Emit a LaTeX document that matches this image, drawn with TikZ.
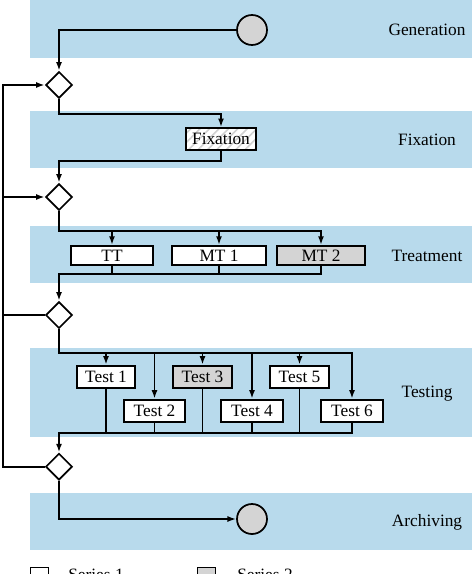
\documentclass[tikz,border=0pt]{standalone}
\usepackage{amsmath}
\usepackage{tikz}
\usepackage{color}
\usepackage{fontspec}
\setmainfont{Liberation Serif}
\usetikzlibrary{patterns}
\usetikzlibrary{patterns.meta}
\usetikzlibrary{shapes}
\usetikzlibrary{arrows.meta}

\definecolor{laneblue}{RGB}{184,218,236}
\definecolor{sergray}{RGB}{212,212,212}

\newcommand{\lanefont}{\fontsize{13}{15}\selectfont}

\begin{document}
\begin{tikzpicture}[x=0.75pt,y=0.75pt,yscale=-1,xscale=1,
    line width=1.3pt,>={Latex[length=6.5pt,width=4.5pt]},
    lane/.style={fill=laneblue,draw=none},
    lanelabel/.style={font=\lanefont,anchor=center},
    task/.style={draw,fill=white,font=\lanefont,inner sep=0pt,minimum height=14.5pt},
    fixbox/.style={draw,font=\lanefont,inner sep=0pt,minimum width=53pt,minimum height=16.5pt,preaction={fill=white},pattern={Lines[angle=45,distance=5pt,line width=1.2pt]},pattern color=black!18},
    testbox/.style={task,minimum height=17pt},
    gate/.style={draw,fill=white,diamond,aspect=1,inner sep=0pt,minimum width=20pt,minimum height=20pt},
    ends/.style={draw,fill=sergray,circle,inner sep=0pt,minimum size=22.5pt},
    key/.style={draw,inner sep=0pt,minimum size=13.5pt,anchor=north west}
]

    \useasboundingbox (0,0) rectangle (474,574);
    \clip (0,0) rectangle (474,574);

    %Shape: Rectangle [lanes]
    \fill[lane] (30,0) rectangle (472,58);
    \fill[lane] (30,111) rectangle (472,168);
    \fill[lane] (30,226) rectangle (472,283);
    \fill[lane] (30,348) rectangle (472,437);
    \fill[lane] (30,492.7) rectangle (472,550);

    %Lane labels
    \node[lanelabel] (lgen) at (427,30) {Generation};
    \node[lanelabel] (lfix) at (427,140) {Fixation};
    \node[lanelabel] (ltreat) at (427,256) {Treatment};
    \node[lanelabel] (ltest) at (427,394) {Testing};
    \node[lanelabel] (larch) at (427,522) {Archiving};

    %Shapes: start, gates and tasks
    \node[ends] (start) at (252,30) {};
    \node[gate] (d1) at (59,85) {};
    \node[fixbox] (fix) at (221,139) {Fixation};
    \node[gate] (d2) at (59,197) {};
    \node[task,minimum width=62pt] (tt) at (112,255.5) {TT};
    \node[task,minimum width=70pt] (mt1) at (219,255.5) {MT 1};
    \node[task,fill=sergray,minimum width=66pt] (mt2) at (321,255.5) {MT 2};
    \node[gate] (d3) at (59,315) {};
    \node[testbox,minimum width=44pt] (test1) at (106,377) {Test 1};
    \node[testbox,minimum width=46pt] (test2) at (154.5,411) {Test 2};
    \node[testbox,fill=sergray,minimum width=44pt] (test3) at (202.5,377) {Test 3};
    \node[testbox,minimum width=46pt] (test4) at (252,411) {Test 4};
    \node[testbox,minimum width=44pt] (test5) at (299.5,377) {Test 5};
    \node[testbox,minimum width=46pt] (test6) at (352,411) {Test 6};
    \node[gate] (d4) at (59,466.7) {};
    \node[ends] (stop) at (252,519) {};

    %Corner points
    \coordinate (fa) at (221,114);
    \coordinate (fb) at (221,161);
    \coordinate (ta) at (59,231);
    \coordinate (tb) at (59,274);
    \coordinate (sa) at (59,352.7);
    \coordinate (sb) at (59,432.7);
    \coordinate (l1) at (3,85);
    \coordinate (l2) at (3,197);
    \coordinate (l3) at (3,315);
    \coordinate (l4) at (3,466.7);

    %Straight Lines
    \draw[->] (start.west) -| (d1.north);
    \draw[->] (d1.south) |- (fa) -- (fix.north);
    \draw[->] (fix.south) -- (fb) -| (d2.north);
    \draw[->] (d2.south) -- (ta) -| (mt2.north);
    \foreach \t in {tt,mt1} \draw[->] (ta) -| (\t.north);
    \draw[->] (mt2.south) |- (tb) -- (d3.north);
    \foreach \t in {tt,mt1} \draw (\t.south) |- (tb);
    \draw[->] (d3.south) -- (sa) -| (test6.north);
    \foreach \t in {test1,test2,test3,test4,test5} \draw[->] (sa) -| (\t.north);
    \draw[->] (test6.south) |- (sb) -- (d4.north);
    \foreach \t in {test1,test2,test3,test4,test5} \draw (\t.south) |- (sb);
    \draw[->] (d4.south) |- (stop.west);

    %Loop back
    \draw[->] (d4.west) -- (l4) -- (l1) -- (d1.west);
    \draw[->] (l2) -- (d2.west);
    \draw (d3.west) -- (l3);

    %Legend
    \node[key,line width=1pt] (k1) at (30,566.7) {};
    \node[anchor=base west,font=\lanefont] (s1) at (63,580) {Series 1};
    \node[key,line width=1pt,fill=sergray] (k2) at (197,566.7) {};
    \node[anchor=base west,font=\lanefont] (s2) at (232,580) {Series 2};

\end{tikzpicture}
\end{document}
